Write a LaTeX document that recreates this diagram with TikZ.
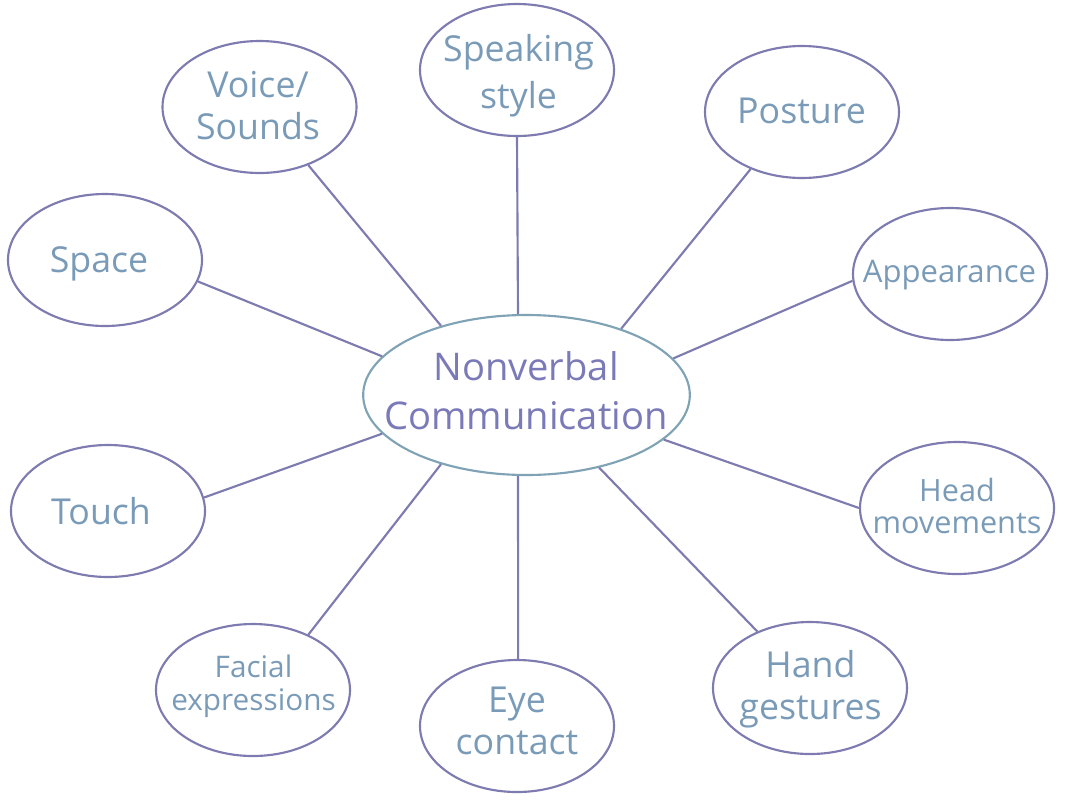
\documentclass[tikz,border=0pt]{standalone}
\usepackage{fontspec}
\setmainfont{Open Sans}
\usetikzlibrary{shapes.geometric}
\definecolor{edge}{HTML}{7D7BB0}
\definecolor{txt}{HTML}{7A9BB8}
\definecolor{ctxt}{HTML}{7A7AB8}
\definecolor{cedge}{HTML}{7FA3B5}
\tikzset{x=0.75pt,y=-0.75pt,
 bub/.style={ellipse,draw=edge,line width=1.6pt,minimum width=145.5pt,minimum height=99pt,inner sep=0pt},
 hub/.style={ellipse,draw=cedge,line width=1.6pt,minimum width=245pt,minimum height=120pt,inner sep=0pt},
 lab/.style={inner sep=0pt,align=center,text=txt,font=\fontsize{26.8}{31.5}\selectfont},
 small/.style={font=\fontsize{22.3}{24.5}\selectfont},
 link/.style={draw=edge,line width=1.6pt}}
\begin{document}
\begin{tikzpicture}
\useasboundingbox (0,0) rectangle (1066,800);
\node[hub] (c) at (526.5,395) {};
\node[bub] (speak) at (517,70) {};
\node[bub] (voice) at (259.5,107) {};
\node[bub] (post) at (802,112) {};
\node[bub] (space) at (105,260) {};
\node[bub] (app) at (950,274) {};
\node[bub] (touch) at (108,511) {};
\node[bub] (head) at (957,508) {};
\node[bub] (face) at (253,690) {};
\node[bub] (eye) at (517,726) {};
\node[bub] (hand) at (810,688) {};
\node[lab,text=ctxt,font=\fontsize{28.6}{37}\selectfont] (tc) at (526,391) {Nonverbal\\Communication};
\node[lab,font=\fontsize{26.8}{35}\selectfont] (tspeak) at (518.5,75.5) {Speaking\\style};
\node[lab] (tvoice) at (258,106) {Voice/\\Sounds};
\node[lab] (tpost) at (801.5,111) {Posture};
\node[lab] (tspace) at (99,264) {Space};
\node[lab,font=\fontsize{23.3}{28}\selectfont] (tapp) at (949.5,275) {Appearance};
\node[lab] (ttouch) at (101,511) {Touch};
\node[lab,font=\fontsize{23}{24.5}\selectfont] (thead) at (957,506) {Head\\movements};
\node[lab,small] (tface) at (253.5,686) {Facial\\expressions};
\node[lab] (teye) at (517,721) {Eye\\contact};
\node[lab] (thand) at (810.5,689.5) {Hand\\gestures};
\draw[link] (c.96.1) -- (speak.270.9);
\draw[link] (c.141.7) -- (voice.310.8);
\draw[link] (c.35.9) -- (post.228.2);
\draw[link] (c.165.7) -- (space.347.5);
\draw[link] (c.14.7) -- (app.184.3);
\draw[link] (c.195) -- (touch.8);
\draw[link] (c.342) -- (head.180.6);
\draw[link] (c.219.4) -- (face.45);
\draw[link] (c.264) -- (eye.89);
\draw[link] (c.315.6) -- (hand.133.4);
\end{tikzpicture}
\end{document}
